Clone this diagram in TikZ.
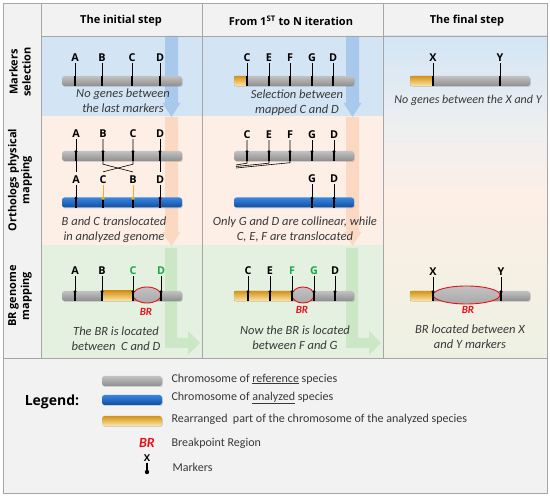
\documentclass[tikz,border=0pt]{standalone}
\usepackage{fontspec}
\setmainfont{Carlito}
\newfontfamily\hf{Open Sans}
\usetikzlibrary{shadows,shapes.geometric}
\definecolor{hdrbg}{HTML}{F2F2F2}
\definecolor{gridc}{HTML}{A6A6A6}
\definecolor{bandB}{HTML}{D3E5F5}
\definecolor{bandP}{HTML}{FDEFE5}
\definecolor{bandG}{HTML}{E4F1E1}
\definecolor{cmid}{HTML}{EFEFF0}
\definecolor{cbot}{HTML}{EDF1E3}
\definecolor{arrB}{HTML}{A9C9EC}
\definecolor{arrP}{HTML}{FBD8C1}
\definecolor{arrG}{HTML}{CBE7C5}
\definecolor{gtop}{HTML}{C2C2C2}
\definecolor{gmid}{HTML}{A9A9A9}
\definecolor{gbot}{HTML}{8E8E8E}
\definecolor{btop}{HTML}{3A86DF}
\definecolor{bmid}{HTML}{1B6CCF}
\definecolor{bbot}{HTML}{0E4FA3}
\definecolor{ytop}{HTML}{D3931C}
\definecolor{ymid}{HTML}{F2C65E}
\definecolor{ybot}{HTML}{FCE7A8}
\definecolor{txt}{HTML}{383838}
\definecolor{brred}{HTML}{E8111B}
\definecolor{grn}{HTML}{1EA84B}
\definecolor{ygold}{HTML}{F0B020}
\newcommand{\mk}[5]{%
  \node[mlab] (#1) at (#2,#3) {#5};
  \draw[mline] (#1.south) -- (#1.south |- #4.north);
  \draw[mthick] (#1.south |- #4.north) -- (#1.south |- #4.south);}
\newcommand{\mkd}[5]{%
  \node[mlab] (#1) at (#2,#3) {#5};
  \draw[mline] (#1.south) -- (#1.south |- #4.north);
  \draw[mthick] (#1.south |- #4.north) -- (#1.south |- #4.south);
  \fill (#1.south |- #4.north) ++(0,1) circle (1.7pt);}
\newcommand{\bardot}[2]{%
  \draw[mthick] (#1.south |- #2.north) -- (#1.south |- #2.south);
  \fill (#1.south |- #2.north) ++(0,1) circle (1.7pt);}
\begin{document}
\begin{tikzpicture}[x=1pt,y=-1pt,
  mlab/.style={font=\hf\bfseries\fontsize{10.8}{12}\selectfont, inner sep=1pt, text=black},
  mline/.style={line width=0.6pt, black},
  mthick/.style={line width=2.4pt, black},
  chrom/.style={rectangle, rounded corners=2.5pt, minimum height=10pt, inner sep=0pt,
    drop shadow={shadow xshift=0.8pt, shadow yshift=-1pt, opacity=0.3}},
  gchr/.style={chrom, top color=gtop, middle color=gmid, bottom color=gbot},
  bchr/.style={chrom, top color=btop, middle color=bmid, bottom color=bbot},
  ychr/.style={chrom, top color=ytop, middle color=ymid, bottom color=ybot},
  yfill/.style={top color=ytop, middle color=ymid, bottom color=ybot},
  brell/.style={ellipse, draw=brred, line width=0.9pt, top color=gtop, bottom color=gmid, inner sep=0pt},
  itx/.style={font=\fontsize{12.5}{14.8}\selectfont\itshape, align=center, text=txt},
  brl/.style={font=\fontsize{11}{12}\selectfont\bfseries\itshape, text=brred},
  hdr/.style={font=\hf\bfseries\fontsize{11}{13}\selectfont, align=center, text=black},
  lgt/.style={font=\fontsize{12}{14}\selectfont, text=txt, anchor=west},
  gridl/.style={draw=gridc, line width=0.8pt}]
\useasboundingbox (0,0) rectangle (550,497);
\fill[white] (0,0) rectangle (550,497);
% backgrounds
\fill[hdrbg] (3,3) rectangle (547,36);
\fill[hdrbg] (3,36) rectangle (41,358);
\fill[bandB] (41,36) rectangle (383,116);
\fill[bandP] (41,116) rectangle (383,245);
\fill[bandG] (41,245) rectangle (383,358);
\shade[top color=bandB, bottom color=cmid] (383,36) rectangle (547,130);
\shade[top color=cmid, bottom color=bandP] (383,130) rectangle (547,200);
\shade[top color=bandP, bottom color=cbot] (383,200) rectangle (547,358);
\fill[hdrbg] (3,358) rectangle (547,493);
% big arrows
\foreach \dx in {0,181}{
  \fill[arrB] (165+\dx,36) -- (178+\dx,36) -- (178+\dx,103) -- (180.5+\dx,103) -- (171.5+\dx,117) -- (162.5+\dx,103) -- (165+\dx,103) -- cycle;
  \fill[arrP] (165+\dx,117) -- (178+\dx,117) -- (178+\dx,232) -- (180.5+\dx,232) -- (171.5+\dx,246) -- (162.5+\dx,232) -- (165+\dx,232) -- cycle;
  \fill[arrG] (165+\dx,248) -- (177+\dx,248) -- (177+\dx,338) -- (188+\dx,338) -- (188+\dx,331) -- (200+\dx,343) -- (188+\dx,355) -- (188+\dx,348) -- (165+\dx,348) -- cycle;
}
% grid
\draw[gridl] (3,3) rectangle (547,493);
\draw[gridl] (3,358) -- (547,358);
\draw[gridl] (41,36) -- (547,36);
\draw[gridl] (41,3) -- (41,358);
\draw[gridl] (202,3) -- (202,358);
\draw[gridl] (383,3) -- (383,358);
% headers
\node[hdr] (h1) at (121,21) {The initial step};
\node[hdr] (h2) at (291,21) {From 1\textsuperscript{ST} to N iteration};
\node[hdr] (h3) at (467,21) {The final step};
\node[hdr, rotate=90] (r1) at (20,72) {Markers\\selection};
\node[hdr, rotate=90] (r2) at (20,180) {Orthologs physical\\mapping};
\node[hdr, rotate=90] (r3) at (20,296) {BR genome\\mapping};
% ---------- row 1
\node[gchr, minimum width=120pt] (g11) at (122,81) {};
\mk{a1A}{75}{58}{g11}{A}
\mk{a1B}{102}{58}{g11}{B}
\mk{a1C}{132}{58}{g11}{C}
\mk{a1D}{160}{58}{g11}{D}
\node[itx] (t11) at (123,101) {No genes between\\the last markers};
\node[gchr, minimum width=120pt] (g12) at (294,81) {};
\begin{scope}
\clip[rounded corners=2.5pt] (g12.south west) rectangle (g12.north east);
\fill[yfill] (g12.south west) rectangle (247,76);
\end{scope}
\mk{b1C}{247}{58}{g12}{C}
\mk{b1E}{269}{58}{g12}{E}
\mk{b1F}{290}{58}{g12}{F}
\mk{b1G}{312}{58}{g12}{G}
\mk{b1D}{333}{58}{g12}{D}
\node[itx] (t12) at (297,102.5) {Selection between\\mapped C and D};
\node[gchr, minimum width=120pt] (g13) at (470,81) {};
\begin{scope}
\clip[rounded corners=2.5pt] (g13.south west) rectangle (g13.north east);
\fill[yfill] (g13.south west) rectangle (433,76);
\end{scope}
\mk{c1X}{433}{58}{g13}{X}
\mk{c1Y}{500}{58}{g13}{Y}
\node[itx, font=\fontsize{12}{14.5}\selectfont\itshape] (t13) at (468,100) {No genes between the X and Y};
% ---------- row 2, col 1
\node[gchr, minimum width=120pt] (g21) at (122,156) {};
\node[bchr, minimum width=120pt] (bl21) at (122,202.5) {};
\node[mlab] (uA) at (76,134) {A};
\node[mlab] (uB) at (103,134) {B};
\node[mlab] (uC) at (133,134) {C};
\node[mlab] (uD) at (160,134) {D};
\node[mlab] (lA) at (76,180) {A};
\node[mlab] (lC) at (103,180) {C};
\node[mlab] (lB) at (133,180) {B};
\node[mlab] (lD) at (160,180) {D};
\draw[mline] (uA.south) -- ([yshift=3pt]lA.north);
\draw[mline] (uD.south) -- ([yshift=3pt]lD.north);
\draw[mline] (uB.south) -- (uB.south |- g21.south) -- ++(0,3) -- ([yshift=3pt]lB.north);
\draw[mline] (uC.south) -- (uC.south |- g21.south) -- ++(0,3) -- ([yshift=3pt]lC.north);
\bardot{uA}{g21}\bardot{uB}{g21}\bardot{uC}{g21}\bardot{uD}{g21}
\draw[mline] (lA.south) -- (lA.south |- bl21.north);
\draw[mline] (lD.south) -- (lD.south |- bl21.north);
\draw[line width=0.8pt, ygold] (lC.south) -- (lC.south |- bl21.north);
\draw[line width=0.8pt, ygold] (lB.south) -- (lB.south |- bl21.north);
\bardot{lA}{bl21}\bardot{lD}{bl21}
\draw[mthick] (lC.south |- bl21.north) -- (lC.south |- bl21.south);
\draw[mthick] (lB.south |- bl21.north) -- (lB.south |- bl21.south);
\fill[ygold] (lC.south |- bl21.north) ++(0,1) circle (1.8pt);
\fill[ygold] (lB.south |- bl21.north) ++(0,1) circle (1.8pt);
\node[itx] (t21) at (114,230) {B and C translocated\\in analyzed genome};
% ---------- row 2, col 2
\node[gchr, minimum width=120pt] (g22) at (294,156) {};
\node[bchr, minimum width=120pt] (bl22) at (294,202.5) {};
\node[mlab] (vC) at (247,135) {C};
\node[mlab] (vE) at (269,135) {E};
\node[mlab] (vF) at (290,135) {F};
\coordinate (k1) at (236,165);
\coordinate (k2) at (236,166.5);
\coordinate (k3) at (236,168);
\draw[mline] (vC.south) -- (vC.south |- g22.south) -- ++(0,2) -- (k1);
\draw[mline] (vE.south) -- (vE.south |- g22.south) -- ++(0,2) -- (k2);
\draw[mline] (vF.south) -- (vF.south |- g22.south) -- ++(0,1.5) -- (k3);
\bardot{vC}{g22}\bardot{vE}{g22}\bardot{vF}{g22}
\mkd{vG}{312}{135}{g22}{G}
\mkd{vD}{334}{135}{g22}{D}
\mkd{wG}{312}{179}{bl22}{G}
\mkd{wD}{334}{179}{bl22}{D}
\node[itx] (t22) at (295,229.5) {Only G and D are collinear, while\\C, E, F are translocated};
% ---------- row 3, col 1
\node[gchr, minimum width=120pt] (g31) at (122,296) {};
\fill[yfill] (102,291) rectangle (133,301);
\node[brell, minimum width=28pt, minimum height=16pt] (e31) at (147,295) {};
\mkd{d3A}{75}{271}{g31}{A}
\mkd{d3B}{102}{271}{g31}{B}
\mkd{d3C}{133}{271}{g31}{\textcolor{grn}{C}}
\mkd{d3D}{161}{271}{g31}{\textcolor{grn}{D}}
\node[brl] (br31) at (146,312) {BR};
\node[itx] (t31) at (116,338.5) {The BR is located\\between\ \ C and D};
% ---------- row 3, col 2
\node[gchr, minimum width=120pt] (g32) at (294,296) {};
\begin{scope}
\clip[rounded corners=2.5pt] (g32.south west) rectangle (g32.north east);
\fill[yfill] (g32.south west) rectangle (292,291);
\end{scope}
\node[brell, minimum width=22pt, minimum height=16pt] (e32) at (303,295) {};
\mkd{d3C2}{248}{271}{g32}{C}
\mkd{d3E2}{270}{271}{g32}{E}
\mkd{d3F2}{292}{271}{g32}{\textcolor{grn}{F}}
\mkd{d3G2}{314}{271}{g32}{\textcolor{grn}{G}}
\mkd{d3D2}{335}{271}{g32}{D}
\node[brl] (br32) at (302,310) {BR};
\node[itx] (t32) at (295,338) {Now the BR is located\\between F and G};
% ---------- row 3, col 3
\node[gchr, minimum width=120pt] (g33) at (470,296) {};
\begin{scope}
\clip[rounded corners=2.5pt] (g33.south west) rectangle (g33.north east);
\fill[yfill] (g33.south west) rectangle (433,291);
\end{scope}
\node[brell, minimum width=67pt, minimum height=18pt] (e33) at (466.5,295) {};
\mkd{d3X}{433}{272}{g33}{X}
\mkd{d3Y}{501}{272}{g33}{Y}
\node[brl] (br33) at (468,310) {BR};
\node[itx] (t33) at (470,337) {BR located between X\\and Y markers};
% ---------- legend
\node[font=\hf\bfseries\fontsize{14}{16}\selectfont] (lg) at (52,402) {Legend:};
\node[gchr, minimum width=60pt] (lg1) at (132,381) {};
\node[bchr, minimum width=60pt] (lg2) at (132,400) {};
\node[ychr, minimum width=60pt] (lg3) at (132,421) {};
\node[lgt] (lt1) at (168,379) {Chromosome of \underline{reference} species};
\node[lgt] (lt2) at (168,398) {Chromosome of \underline{analyzed} species};
\node[lgt] (lt3) at (168,419) {Rearranged\ \ part of the chromosome of the analyzed species};
\node[font=\fontsize{14}{16}\selectfont\bfseries\itshape, text=brred] (lbr) at (147,443) {BR};
\node[lgt] (lt4) at (168,443) {Breakpoint Region};
\node[mlab, font=\hf\bfseries\fontsize{9.5}{10}\selectfont] (lx) at (147,458) {X};
\coordinate (lxd) at (147,472);
\draw[line width=1.4pt] (lx.south) -- (lxd);
\fill (lxd) circle (2.2pt);
\node[lgt] (lt5) at (169,467) {Markers};
\end{tikzpicture}
\end{document}
